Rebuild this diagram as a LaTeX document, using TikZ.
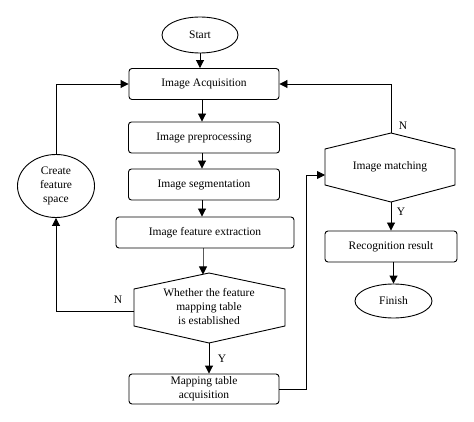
\documentclass[tikz,border=0pt]{standalone}
\usepackage{fontspec}
\setmainfont{Liberation Serif}
\usetikzlibrary{shapes.geometric,arrows.meta}
\begin{document}
\begin{tikzpicture}[x=1pt,y=-1pt,
  every node/.style={font=\fontsize{11.5}{14}\selectfont},
  box/.style={draw, rounded corners=3pt, line width=0.9pt, minimum height=31pt, align=center, inner sep=0pt},
  ell/.style={draw, ellipse, line width=0.9pt, align=center, inner sep=0pt},
  arr/.style={-{Triangle[length=8pt,width=8pt]}, line width=0.9pt},
  shp/.style={line width=0.9pt, line join=miter}]
\useasboundingbox (0,0) rectangle (474,422);
% nodes
\node[ell, minimum width=76pt, minimum height=36pt] (start) at (200,35) {Start};
\node[box, minimum width=150pt] (acq) at (204,84) {Image Acquisition};
\node[box, minimum width=151pt] (pre) at (204,137.5) {Image preprocessing};
\node[box, minimum width=151pt] (seg) at (204,184.5) {Image segmentation};
\node[box, minimum width=178pt] (ext) at (205,232.5) {Image feature extraction};
% hexagon 1
\coordinate (h1t) at (209,273);
\coordinate (h1ur) at (285,289);
\coordinate (h1lr) at (285,326);
\coordinate (h1b) at (209,343);
\coordinate (h1ll) at (134,326);
\coordinate (h1ul) at (134,289);
\coordinate (h1w) at (134,311);
\draw[shp] (h1t) -- (h1ur) -- (h1lr) -- (h1b) -- (h1ll) -- (h1ul) -- cycle;
\node[align=center, inner sep=0pt] (h1) at (209,307) {Whether the feature\\mapping table\\is established};
\node[box, minimum width=150pt, minimum height=30pt] (map) at (204,389) {Mapping table\\acquisition};
\node[ell, minimum width=77pt, minimum height=63pt] (cfs) at (56,186) {Create\\feature\\space};
% hexagon 2
\coordinate (h2t) at (391,133);
\coordinate (h2ur) at (455,149);
\coordinate (h2lr) at (455,185);
\coordinate (h2b) at (391,202);
\coordinate (h2ll) at (325,185);
\coordinate (h2ul) at (325,149);
\coordinate (h2w) at (325,175);
\draw[shp] (h2t) -- (h2ur) -- (h2lr) -- (h2b) -- (h2ll) -- (h2ul) -- cycle;
\node[inner sep=0pt] (h2) at (390,167) {Image matching};
\node[box, minimum width=132pt] (rec) at (391,246.5) {Recognition result};
\node[ell, minimum width=77pt, minimum height=34pt] (fin) at (393.5,301) {Finish};
% connectors
\draw[arr] (start.south) -- (start.south |- acq.north);
\draw[arr] (acq.south -| 202,0) -- (pre.north -| 202,0);
\draw[arr] (pre.south -| 202,0) -- (seg.north -| 202,0);
\draw[arr] (seg.south -| 202,0) -- (ext.north -| 202,0);
\draw[arr] (ext.south -| 203,0) -- (h1t -| 203,0) -- ++(0,1.5);
\draw[arr] (cfs.north) |- (acq.west);
\draw[arr] (h1w) -| (cfs.south);
\draw[arr] (h1b) -- (h1b |- map.north);
\draw[arr] (map.east) -- ++(27,0) |- (h2w);
\draw[arr] (h2t) |- (acq.east);
\draw[arr] (h2b) -- (h2b |- rec.north);
\draw[arr] (rec.south -| fin.north) -- (fin.north);
% labels
\node (lN1) at (118,300) {N};
\node (lY1) at (222,359) {Y};
\node (lN2) at (403,126) {N};
\node (lY2) at (401,212) {Y};
\end{tikzpicture}
\end{document}
